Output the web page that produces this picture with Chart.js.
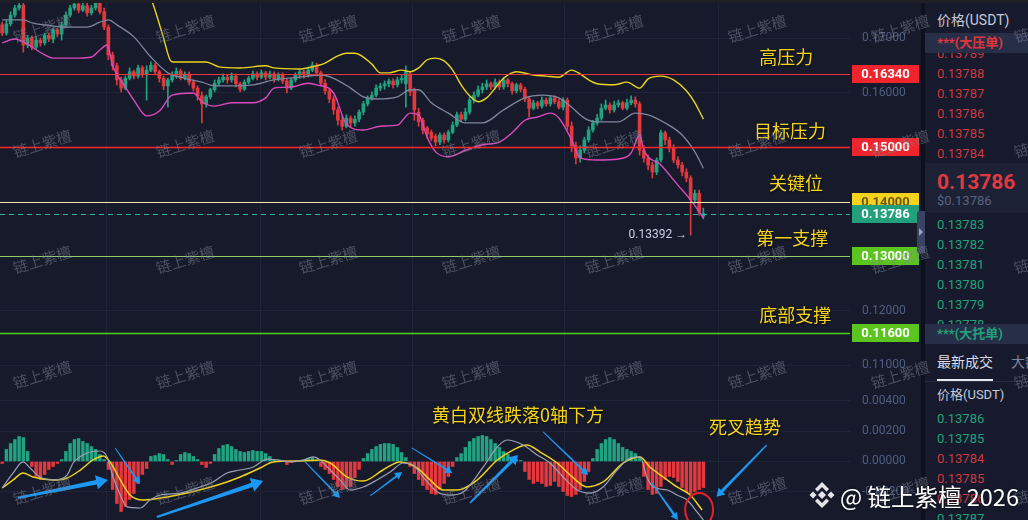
<!DOCTYPE html>
<html><head><meta charset="utf-8">
<script src="https://cdn.jsdelivr.net/npm/chart.js@4.4.1/dist/chart.umd.min.js"></script>
<style>
html,body{margin:0;padding:0;background:#161a2b;}
#stage{position:relative;width:1028px;height:520px;overflow:hidden;background:#161a2b;font-family:Roboto,"Noto Sans CJK SC",sans-serif;}
canvas{position:absolute;left:0;}
#c1{top:0}
#c2{top:380px}
.topbar{position:absolute;left:0;top:0;width:1028px;height:3px;background:#1e1f24;z-index:9}
.divider{position:absolute;left:921px;top:0;width:4px;height:520px;background:#0e111d;z-index:2}
.tab{position:absolute;left:917px;top:211px;width:8px;height:42px;background:#3a4363;border-radius:2px 0 0 2px;z-index:3}
.tab:after{content:"";position:absolute;left:2px;top:17px;border-left:4px solid #9aa3c0;border-top:4px solid transparent;border-bottom:4px solid transparent}
#book{position:absolute;left:925px;top:0;width:103px;height:520px;background:#161a2c;z-index:1;overflow:hidden}
.t{position:absolute;height:20px;line-height:20px;white-space:nowrap}
.wm{position:absolute;color:rgba(128,133,150,0.5);font:15px "Noto Sans CJK SC";transform:translate(-50%,-50%) rotate(-17deg);white-space:nowrap;z-index:6;pointer-events:none}
.brand{position:absolute;left:840px;top:479px;height:30px;line-height:30px;font:23.5px "Noto Sans CJK SC";color:#fff;text-shadow:0 0 3px rgba(0,0,0,0.7);z-index:8;white-space:nowrap}
.logo{position:absolute;left:808px;top:481px;width:28px;height:28px;z-index:8}
</style>
</head>
<body>
<div id="stage">
  <canvas id="c1" width="922" height="380"></canvas>
  <canvas id="c2" width="922" height="140"></canvas>
  <div class="divider"></div>
  <div class="tab"></div>
  <div id="book"></div>
  <div class="topbar"></div>
  <svg class="logo" viewBox="0 0 28 28"><g fill="#e4e4ea"><path d="M14 10 L18 14 L14 18 L10 14Z"/><path d="M5 10.5 L8.5 14 L5 17.5 L1.5 14Z"/><path d="M23 10.5 L26.5 14 L23 17.5 L19.5 14Z"/><path d="M14 1 L21 8 L18.5 10.5 L14 6 L9.5 10.5 L7 8Z"/><path d="M14 27 L21 20 L18.5 17.5 L14 22 L9.5 17.5 L7 20Z"/></g></svg>
  <div class="brand">@ 链上紫檀 2026</div>
</div>
<script>
// ---------------- DATA ----------------
const opens=[0.1725,0.1710,0.1727,0.1743,0.1756,0.1761,0.1688,0.1701,0.1684,0.1697,
0.1692,0.1706,0.1699,0.1716,0.1708,0.1725,0.1743,0.1756,0.1763,0.1752,
0.1760,0.1747,0.1756,0.1765,0.1749,0.1721,0.1670,0.1650,0.1624,0.1609,
0.1627,0.1639,0.1631,0.1646,0.1635,0.1642,0.1651,0.1639,0.1627,0.1613,
0.1624,0.1633,0.1640,0.1627,0.1635,0.1620,0.1609,0.1595,0.1580,0.1593,
0.1606,0.1618,0.1624,0.1629,0.1624,0.1631,0.1617,0.1607,0.1620,0.1627,
0.1635,0.1629,0.1637,0.1629,0.1635,0.1626,0.1633,0.1622,0.1609,0.1624,
0.1633,0.1639,0.1633,0.1642,0.1651,0.1637,0.1618,0.1604,0.1589,0.1569,
0.1550,0.1539,0.1554,0.1545,0.1552,0.1565,0.1580,0.1591,0.1596,0.1609,
0.1613,0.1617,0.1622,0.1615,0.1624,0.1617,0.1635,0.1606,0.1565,0.1550,
0.1536,0.1528,0.1521,0.1510,0.1523,0.1514,0.1528,0.1541,0.1560,0.1552,
0.1565,0.1587,0.1596,0.1606,0.1611,0.1617,0.1611,0.1620,0.1611,0.1624,
0.1617,0.1604,0.1615,0.1607,0.1589,0.1572,0.1582,0.1576,0.1587,0.1580,
0.1591,0.1584,0.1574,0.1587,0.1539,0.1503,0.1481,0.1495,0.1514,0.1532,
0.1545,0.1554,0.1572,0.1578,0.1569,0.1578,0.1582,0.1572,0.1582,0.1587,
0.1580,0.1495,0.1481,0.1468,0.1455,0.1477,0.1527,0.1514,0.1499,0.1477,
0.1468,0.1455,0.1444,0.1404,0.1416,0.1374];
const closes=[0.1710,0.1727,0.1743,0.1756,0.1761,0.1688,0.1701,0.1684,0.1697,0.1692,
0.1706,0.1699,0.1716,0.1708,0.1725,0.1743,0.1756,0.1763,0.1752,0.1760,
0.1747,0.1756,0.1765,0.1749,0.1721,0.1670,0.1650,0.1624,0.1609,0.1627,
0.1639,0.1631,0.1646,0.1635,0.1642,0.1651,0.1639,0.1627,0.1613,0.1624,
0.1633,0.1640,0.1627,0.1635,0.1620,0.1609,0.1595,0.1580,0.1593,0.1606,
0.1618,0.1624,0.1629,0.1624,0.1631,0.1617,0.1607,0.1620,0.1627,0.1635,
0.1629,0.1637,0.1629,0.1635,0.1626,0.1633,0.1622,0.1609,0.1624,0.1633,
0.1639,0.1633,0.1642,0.1651,0.1637,0.1618,0.1604,0.1589,0.1569,0.1550,
0.1539,0.1554,0.1545,0.1552,0.1565,0.1580,0.1591,0.1596,0.1609,0.1613,
0.1617,0.1622,0.1615,0.1624,0.1627,0.1639,0.1602,0.1569,0.1547,0.1532,
0.1525,0.1517,0.1510,0.1523,0.1514,0.1528,0.1541,0.1560,0.1552,0.1565,
0.1587,0.1596,0.1606,0.1611,0.1617,0.1611,0.1620,0.1611,0.1624,0.1617,
0.1604,0.1615,0.1607,0.1589,0.1572,0.1582,0.1576,0.1587,0.1580,0.1591,
0.1584,0.1574,0.1587,0.1539,0.1503,0.1481,0.1495,0.1514,0.1532,0.1545,
0.1554,0.1572,0.1578,0.1569,0.1578,0.1582,0.1572,0.1582,0.1587,0.1580,
0.1495,0.1481,0.1468,0.1455,0.1477,0.1527,0.1514,0.1499,0.1477,0.1468,
0.1455,0.1444,0.1404,0.1416,0.1382,0.13786];
const highs=[0.1730,0.1734,0.1749,0.1761,0.1769,0.1767,0.1706,0.1705,0.1703,0.1701,
0.1710,0.1710,0.1719,0.1719,0.1730,0.1749,0.1761,0.1771,0.1769,0.1767,
0.1765,0.1761,0.1771,0.1771,0.1756,0.1725,0.1675,0.1655,0.1629,0.1631,
0.1646,0.1642,0.1651,0.1650,0.1650,0.1657,0.1655,0.1642,0.1631,0.1627,
0.1639,0.1646,0.1644,0.1639,0.1639,0.1624,0.1613,0.1602,0.1596,0.1609,
0.1624,0.1629,0.1635,0.1633,0.1637,0.1635,0.1620,0.1624,0.1631,0.1640,
0.1639,0.1642,0.1640,0.1640,0.1639,0.1637,0.1637,0.1626,0.1627,0.1637,
0.1642,0.1642,0.1648,0.1657,0.1655,0.1640,0.1624,0.1609,0.1595,0.1574,
0.1558,0.1560,0.1558,0.1558,0.1569,0.1585,0.1595,0.1602,0.1615,0.1618,
0.1622,0.1626,0.1626,0.1629,0.1633,0.1650,0.1639,0.1609,0.1572,0.1554,
0.1539,0.1532,0.1525,0.1527,0.1527,0.1532,0.1547,0.1565,0.1565,0.1572,
0.1593,0.1602,0.1613,0.1618,0.1624,0.1620,0.1626,0.1624,0.1629,0.1627,
0.1620,0.1618,0.1618,0.1611,0.1593,0.1587,0.1585,0.1593,0.1591,0.1595,
0.1595,0.1589,0.1591,0.1591,0.1547,0.1510,0.1503,0.1519,0.1538,0.1550,
0.1561,0.1580,0.1587,0.1582,0.1585,0.1587,0.1585,0.1589,0.1595,0.1593,
0.1584,0.1503,0.1486,0.1473,0.1481,0.1532,0.1530,0.1519,0.1505,0.1483,
0.1473,0.1461,0.1448,0.1422,0.1422,0.1389];
const lows=[0.1705,0.1706,0.1723,0.1739,0.1752,0.1675,0.1683,0.1679,0.1681,0.1686,
0.1688,0.1694,0.1692,0.1703,0.1697,0.1721,0.1739,0.1752,0.1747,0.1749,
0.1741,0.1743,0.1752,0.1745,0.1716,0.1661,0.1642,0.1615,0.1602,0.1606,
0.1624,0.1626,0.1627,0.1629,0.1587,0.1639,0.1633,0.1620,0.1606,0.1574,
0.1620,0.1627,0.1624,0.1624,0.1615,0.1604,0.1587,0.1545,0.1574,0.1589,
0.1602,0.1613,0.1620,0.1618,0.1620,0.1611,0.1602,0.1604,0.1617,0.1624,
0.1624,0.1626,0.1624,0.1626,0.1620,0.1622,0.1617,0.1600,0.1606,0.1620,
0.1627,0.1627,0.1629,0.1639,0.1631,0.1613,0.1598,0.1582,0.1561,0.1541,
0.1532,0.1536,0.1538,0.1539,0.1547,0.1560,0.1576,0.1587,0.1593,0.1604,
0.1607,0.1611,0.1609,0.1611,0.1618,0.1574,0.1595,0.1550,0.1539,0.1525,
0.1517,0.1512,0.1503,0.1505,0.1508,0.1510,0.1525,0.1538,0.1547,0.1549,
0.1561,0.1582,0.1593,0.1600,0.1606,0.1606,0.1607,0.1606,0.1607,0.1611,
0.1598,0.1600,0.1602,0.1584,0.1556,0.1569,0.1571,0.1572,0.1576,0.1576,
0.1580,0.1571,0.1569,0.1532,0.1492,0.1470,0.1473,0.1490,0.1510,0.1528,
0.1541,0.1550,0.1569,0.1563,0.1565,0.1574,0.1569,0.1569,0.1578,0.1574,
0.1486,0.1473,0.1459,0.1444,0.1450,0.1473,0.1505,0.1492,0.1472,0.1462,
0.1448,0.1437,0.13392,0.1398,0.1376,0.1369];

// Bollinger bands: [candle index, price]
const bollUpper=[[0,0.1767],[4,0.1776],[10,0.1798],[20,0.1807],[28,0.1812],[33,0.1790],[35.3,0.1767],[36.5,0.1739],[37.9,0.1703],[39.5,0.1661],[40.2,0.1657],[45,0.1657],[48,0.1657],[51,0.1648],[56,0.1646],[62,0.1650],[64,0.1646],[70,0.1644],[73,0.1648],[76,0.1655],[79,0.1668],[81,0.1673],[83,0.1673],[87,0.1653],[89,0.1637],[91,0.1637],[94,0.1642],[96,0.1639],[98,0.1646],[100,0.1661],[102,0.1664],[104,0.1659],[106,0.1642],[108,0.1615],[110,0.1595],[112,0.1584],[114,0.1591],[116,0.1609],[118,0.1627],[121,0.1639],[125,0.1633],[128,0.1631],[131,0.1629],[134,0.1642],[136,0.1635],[138,0.1624],[140,0.1617],[144,0.1615],[147,0.1620],[150,0.1609],[152,0.1626],[155,0.1631],[158,0.1624],[161,0.1604],[163,0.1582],[165,0.1552]];
const bollMid=[[0,0.1734],[3,0.1734],[5,0.1734],[7.3,0.1728],[10,0.1725],[15,0.1721],[20,0.1721],[23,0.1730],[25,0.1734],[27,0.1725],[31,0.1703],[35,0.1666],[39,0.1637],[43,0.1627],[47,0.1620],[50,0.1613],[55,0.1613],[59,0.1615],[64,0.1624],[70,0.1629],[75,0.1633],[78,0.1627],[82,0.1609],[85,0.1593],[88,0.1589],[93,0.1593],[96,0.1606],[98,0.1606],[101,0.1582],[105,0.1563],[109,0.1545],[113,0.1545],[118,0.1569],[123,0.1591],[127,0.1596],[131,0.1591],[134,0.1574],[137,0.1554],[140,0.1547],[145,0.1547],[149,0.1563],[152,0.1560],[156,0.1545],[160,0.1523],[163,0.1492],[165,0.1462]];
const bollLower=[[0,0.1692],[3,0.1699],[5,0.1694],[7.3,0.1683],[10,0.1670],[12,0.1664],[18,0.1664],[21,0.1666],[23,0.1679],[24.7,0.1688],[26.1,0.1648],[29,0.1611],[31,0.1587],[34,0.1558],[37,0.1567],[40,0.1596],[45,0.1600],[47,0.1584],[50,0.1576],[54,0.1582],[59,0.1582],[62,0.1591],[64,0.1609],[68,0.1611],[72,0.1618],[74,0.1615],[78,0.1600],[81,0.1543],[85,0.1532],[89,0.1539],[93,0.1541],[96,0.1563],[98,0.1560],[100,0.1519],[102,0.1492],[105,0.1483],[109,0.1495],[113,0.1505],[117,0.1510],[120,0.1527],[123,0.1550],[126,0.1556],[129,0.1563],[131,0.1554],[134,0.1514],[136,0.1481],[140,0.1477],[145,0.1479],[148,0.1490],[150,0.1523],[151,0.1495],[155,0.1468],[159,0.1431],[162,0.1404],[165,0.1371]];

const priceTicks=[0.17,0.16,0.15,0.14,0.13,0.12,0.11];
const gridCols=[24.5,60.7,96.6,132.3,168.5];
const levelPrices=[0.1634,0.15,0.14,0.13,0.116];
const levelLabels=['0.16340','0.15000','0.14000','0.13000','0.11600'];
const levelNotes=['高压力','目标压力','关键位','第一支撑','底部支撑'];
const levelNoteIdx=[184.5,185.4,186.8,185.9,186.6];
const levelNotePrice=[0.1666,0.1530,0.1435,0.1334,0.1193];
const lastPrice=0.13786;
const lastLabel='0.13786';
const lowMarkIdx=161.2, lowMarkPrice=0.13392, lowMarkText='0.13392 →';

// MACD
const macdHist=[-0.00013,0.00079,0.00118,0.00144,0.00164,0.00157,0.00066,-0.00033,-0.00098,-0.00118,
-0.00085,-0.00052,-0.00033,-0.00013,0.00013,0.00066,0.00118,0.00144,0.00151,0.00131,
0.00118,0.00098,0.00079,0.00046,0.00013,-0.00052,-0.00184,-0.00276,-0.00328,-0.00295,
-0.00249,-0.0021,-0.00144,-0.00085,-0.00046,0.00033,0.00039,0.00052,0.00046,0.00013,
-0.0002,0.00007,0.00046,0.00059,0.00052,0.00033,0.00013,-0.0002,-0.00039,-0.00013,
0.00046,0.00085,0.00105,0.00112,0.00098,0.00079,0.00066,0.00059,0.00066,0.00072,
0.00066,0.00066,0.00052,0.00033,0.00013,0.00003,0.00003,-0.0002,-0.00007,0.00003,
0.00003,0.00007,0.0002,0.00026,0.00003,-0.00033,-0.00052,-0.00079,-0.00118,-0.00164,
-0.00184,-0.00177,-0.00164,-0.00105,-0.00052,0.0002,0.00052,0.00079,0.00098,0.00112,
0.00118,0.00118,0.00112,0.00092,0.00059,0.00026,-0.00033,-0.00079,-0.00118,-0.00157,
-0.00184,-0.0021,-0.00216,-0.00184,-0.00144,-0.00098,-0.00033,0.00026,0.00052,0.00092,
0.00131,0.00151,0.00164,0.00171,0.00164,0.00144,0.00118,0.00092,0.00066,0.00046,
0.00026,0.00013,0.00007,-0.00066,-0.00118,-0.00144,-0.00131,-0.00144,-0.00164,-0.00157,
-0.00131,-0.00164,-0.00197,-0.00223,-0.0023,-0.00216,-0.00184,-0.00131,-0.00066,0.0002,
0.00079,0.00118,0.00144,0.00157,0.00144,0.00118,0.00092,0.00079,0.00066,0.00052,
0.00026,-0.00098,-0.00184,-0.00216,-0.0021,-0.00164,-0.00118,-0.00098,-0.00105,-0.00131,
-0.00171,-0.00197,-0.0021,-0.00197,-0.00184,-0.00171];
const macdDif=[[0,-0.00174],[2.6,-0.00075],[4.9,-0.00003],[6.6,-0.00043],[8.9,-0.00102],[12,-0.00121],[15.3,-0.00089],[16.7,-0.0001],[20,0.00056],[23,0.00069],[24.7,0.0003],[26.1,-0.00102],[27.8,-0.0022],[29.4,-0.00298],[32.5,-0.00305],[34.8,-0.00253],[37.2,-0.0022],[41.9,-0.00207],[46.6,-0.00167],[49.6,-0.00134],[52.9,-0.00075],[56,-0.00056],[59.1,-0.00036],[62.4,0.00016],[64.7,0.0001],[67.8,-0.00003],[70.8,0.0001],[73.2,0.0003],[74.8,0.0001],[77.2,-0.00056],[79.5,-0.00121],[81.9,-0.00187],[85,-0.00167],[88.2,-0.00121],[91.3,-0.00069],[94.4,-0.0001],[96.7,-0.00023],[99.1,-0.00102],[102.4,-0.002],[105.4,-0.0022],[108.5,-0.002],[113.2,-0.00036],[116.5,0.00095],[118.8,0.00141],[122.6,0.00108],[125.9,0.00043],[128.9,-0.0001],[132,-0.00102],[135.3,-0.00187],[138.4,-0.00207],[141.4,-0.00167],[144.7,-0.00056],[147.8,0.00023],[150.1,0.00030],[151.7,-0.00102],[153.2,-0.00167],[156.5,-0.00187],[158.8,-0.0022],[161.2,-0.00253],[163.5,-0.00331],[165,-0.00384]];
const macdDea=[[0,-0.00174],[2.6,-0.00121],[4.9,-0.00075],[7.3,-0.00102],[12,-0.00121],[15.3,-0.00108],[18.4,-0.00056],[21.4,0.0001],[23.8,0.00036],[25.4,-0.00003],[27.8,-0.00121],[30.1,-0.0022],[33.2,-0.00253],[38.8,-0.00233],[43.5,-0.00207],[48.2,-0.00174],[52.9,-0.00134],[56,-0.00102],[60.7,-0.00043],[63.8,-0.00003],[70.1,0.00003],[74.8,0.0001],[77.2,-0.0001],[81.2,-0.00102],[85,-0.00128],[89.6,-0.00056],[93.6,-0.00003],[97.7,-0.00043],[100.7,-0.00121],[103.8,-0.00187],[107.1,-0.00187],[111.8,-0.00121],[116.5,0.0001],[120.2,0.00075],[123.5,0.00108],[126.6,0.00062],[130.6,-0.0001],[134.4,-0.00108],[137.6,-0.00167],[141.4,-0.00134],[146.1,-0.0001],[150.1,0.0003],[152.4,-0.00036],[155.5,-0.001],[158.8,-0.00167],[161.9,-0.0022],[164.7,-0.00318]];
const macdTicks=[0.004,0.002,0,-0.002];
const macdNotes=['黄白双线跌落0轴下方','死叉趋势'];
const macdNoteIdx=[121.4,174.8];
const macdNoteVal=[0.00305,0.00226];
// hand-drawn arrows [fromIdx, fromVal, toIdx, toVal]
const arrows=[[3.7,-0.00239,24.9,-0.00121],[26.6,0.00089,32.4,-0.00148],[36.4,-0.00364,61.4,-0.00128],[71.3,-0.00003,79.5,-0.00239],[86.6,-0.00226,94.1,-0.00069],[96.4,0.00089,105.9,-0.00075],[110.1,-0.00272,121.4,0.00043],[127.3,0.00194,137.9,-0.00089],[152.9,-0.00141,159.0,-0.00384],[179.9,0.00108,168.1,-0.00231]];
const arrowWidths=[4.5,2,4.5,2,2,2,3.5,2,2.5,3];
const crossIdx=164.0, crossVal=-0.00318;

// order book
const askPrices=['0.13789','0.13788','0.13787','0.13786','0.13785','0.13784'];
const bidPrices=['0.13783','0.13782','0.13781','0.13780','0.13779','0.13778'];
const tradePrices=['0.13786','0.13785','0.13784','0.13785','0.13786','0.13787'];
const tradeSides=['buy','buy','sell','sell','sell','buy'];

// ---------------- STYLE ----------------
const GREEN='#21a281', RED='#e3383d';
const levelLineColors=['#e8363c','#ff2626','#efe3a8','#94cc6a','#4fd214'];
const levelLineWidths=[1.2,1.5,1.2,1.2,1.5];
const levelBoxColors=['#f0242c','#f0242c','#f5d21c','#5cc41e','#5cc41e'];
const levelTextColors=['#ffffff','#ffffff','#6a5816','#ffffff','#ffffff'];
const PMAX=0.177064, PMIN=0.107339, MMAX=0.005346, MMIN=-0.003838;
const TICK_COLOR='#505e82', GRID_COLOR='#1f2439';
Chart.defaults.font.family='Roboto, "Noto Sans CJK SC", sans-serif';

const candleColors=closes.map((c,i)=>c>=opens[i]?GREEN:RED);
const toXY=a=>a.map(p=>({x:p[0],y:p[1]}));

function xScaleOpts(){
  return {type:'linear',min:-0.5,max:199.5,offset:false,display:true,
    ticks:{display:false},grid:{color:GRID_COLOR,drawTicks:false,offset:false},border:{display:false},
    afterBuildTicks:s=>{s.ticks=gridCols.map(v=>({value:v}));},
    afterFit:s=>{s.height=0;s.paddingLeft=0;s.paddingRight=0;s.paddingTop=0;s.paddingBottom=0;}};
}
function yScaleOpts(min,max,ticks){
  return {position:'right',min:min,max:max,
    ticks:{color:TICK_COLOR,font:{size:12},padding:12,callback:v=>Number(v).toFixed(5),autoSkip:false},
    grid:{color:GRID_COLOR,drawTicks:false},border:{display:false},
    afterBuildTicks:s=>{s.ticks=ticks.map(v=>({value:v}));},
    afterFit:s=>{s.width=72;s.paddingTop=0;s.paddingBottom=0;}};
}

function drawNote(ctx,text,x,y,size){
  ctx.save();
  ctx.font=size+'px "Noto Sans CJK SC"';
  ctx.textAlign='center';ctx.textBaseline='middle';
  ctx.shadowColor='rgba(0,0,0,0.6)';ctx.shadowBlur=2;ctx.shadowOffsetX=1;ctx.shadowOffsetY=1;
  ctx.fillStyle='#f7d417';
  ctx.fillText(text,x,y);
  ctx.restore();
}

const pricePlugin={
  id:'levels',
  afterDatasetsDraw(chart){
    const {ctx,chartArea:a,scales:{x,y}}=chart;
    ctx.save();
    levelPrices.forEach((p,k)=>{
      const yy=Math.round(y.getPixelForValue(p))+0.5;
      ctx.strokeStyle=levelLineColors[k];ctx.lineWidth=levelLineWidths[k];
      ctx.beginPath();ctx.moveTo(a.left,yy);ctx.lineTo(a.right,yy);ctx.stroke();
    });
    const ly=Math.round(y.getPixelForValue(lastPrice))+0.5;
    ctx.setLineDash([5,4]);ctx.strokeStyle='#2ab49a';ctx.lineWidth=1.2;
    ctx.beginPath();ctx.moveTo(a.left,ly);ctx.lineTo(a.right,ly);ctx.stroke();
    ctx.setLineDash([]);
    ctx.font='12px Roboto';ctx.fillStyle='#c8cee0';ctx.textAlign='right';ctx.textBaseline='middle';
    ctx.fillText(lowMarkText,x.getPixelForValue(lowMarkIdx),y.getPixelForValue(lowMarkPrice));
    ctx.restore();
    levelNotes.forEach((t,k)=>drawNote(ctx,t,x.getPixelForValue(levelNoteIdx[k]),y.getPixelForValue(levelNotePrice[k]),18));
  },
  afterDraw(chart){
    const {ctx,chartArea:a,scales:{y}}=chart;
    ctx.save();
    const box=(p,label,bg,fg)=>{
      const yy=y.getPixelForValue(p);
      ctx.fillStyle=bg;ctx.fillRect(a.right+2,Math.round(yy)-9,67,18);
      ctx.fillStyle=fg;ctx.font='bold 13px Roboto';ctx.textAlign='center';ctx.textBaseline='middle';
      ctx.fillText(label,a.right+2+33.5,Math.round(yy)+0.5);
    };
    levelPrices.forEach((p,k)=>box(p,levelLabels[k],levelBoxColors[k],levelTextColors[k]));
    box(lastPrice,lastLabel,'#22a07c','#ffffff');
    ctx.restore();
  }
};

new Chart(document.getElementById('c1'),{
  type:'bar',
  data:{datasets:[
    {type:'line',label:'UP',data:toXY(bollUpper),borderColor:'#e9d51b',borderWidth:1.4,pointRadius:0,cubicInterpolationMode:'monotone',order:0},
    {type:'line',label:'MB',data:toXY(bollMid),borderColor:'#7f869c',borderWidth:1.3,pointRadius:0,cubicInterpolationMode:'monotone',order:0},
    {type:'line',label:'DN',data:toXY(bollLower),borderColor:'#d94bbd',borderWidth:1.4,pointRadius:0,cubicInterpolationMode:'monotone',order:0},
    {label:'wick',data:lows.map((l,i)=>({x:i,y:[l,highs[i]]})),backgroundColor:candleColors,barThickness:1,grouped:false,order:2},
    {label:'body',data:opens.map((o,i)=>({x:i,y:[o,closes[i]]})),backgroundColor:candleColors,barThickness:3,minBarLength:1,grouped:false,order:1}
  ]},
  options:{responsive:false,animation:false,devicePixelRatio:1,
    layout:{padding:0},
    plugins:{legend:{display:false},tooltip:{enabled:false}},
    scales:{x:xScaleOpts(),y:yScaleOpts(PMIN,PMAX,priceTicks)}},
  plugins:[pricePlugin]
});

function drawArrow(ctx,x1,y1,x2,y2,w){
  const ang=Math.atan2(y2-y1,x2-x1);
  const len=Math.hypot(x2-x1,y2-y1);
  const hl=Math.max(7,w*2.6), hw=Math.max(4,w*1.6);
  ctx.save();ctx.translate(x1,y1);ctx.rotate(ang);
  ctx.beginPath();
  ctx.moveTo(0,-w*0.25);ctx.lineTo(len-hl,-w/2);ctx.lineTo(len-hl,-hw);ctx.lineTo(len,0);
  ctx.lineTo(len-hl,hw);ctx.lineTo(len-hl,w/2);ctx.lineTo(0,w*0.25);ctx.closePath();
  ctx.fillStyle='#1b98f2';ctx.fill();
  ctx.restore();
}

const macdPlugin={
  id:'macdNotes',
  afterDraw(chart){
    const {ctx,scales:{x,y}}=chart;
    arrows.forEach((a,k)=>drawArrow(ctx,x.getPixelForValue(a[0]),y.getPixelForValue(a[1]),x.getPixelForValue(a[2]),y.getPixelForValue(a[3]),arrowWidths[k]));
    ctx.save();
    ctx.strokeStyle='#e8202a';ctx.lineWidth=2;
    ctx.beginPath();ctx.ellipse(x.getPixelForValue(crossIdx),y.getPixelForValue(crossVal),14,17,0,0,Math.PI*2);ctx.stroke();
    ctx.restore();
    macdNotes.forEach((t,k)=>drawNote(ctx,t,x.getPixelForValue(macdNoteIdx[k]),y.getPixelForValue(macdNoteVal[k]),18));
  }
};

new Chart(document.getElementById('c2'),{
  type:'bar',
  data:{datasets:[
    {type:'line',label:'DIF',data:toXY(macdDif),borderColor:'#9ca1b6',borderWidth:1.2,pointRadius:0,cubicInterpolationMode:'monotone',order:0},
    {type:'line',label:'DEA',data:toXY(macdDea),borderColor:'#efd21a',borderWidth:1.5,pointRadius:0,cubicInterpolationMode:'monotone',order:0},
    {label:'MACD',data:macdHist.map((v,i)=>({x:i,y:v})),backgroundColor:macdHist.map(v=>v>=0?GREEN:RED),barThickness:2.8,order:1}
  ]},
  options:{responsive:false,animation:false,devicePixelRatio:1,
    layout:{padding:0},
    plugins:{legend:{display:false},tooltip:{enabled:false}},
    scales:{x:xScaleOpts(),y:yScaleOpts(MMIN,MMAX,macdTicks)}},
  plugins:[macdPlugin]
});

// ---------------- ORDER BOOK (HTML text) ----------------
const book=document.getElementById('book');
function addText(txt,left,cy,css){
  const d=document.createElement('div');d.className='t';d.textContent=txt;
  d.style.left=left+'px';d.style.top=(cy-10)+'px';Object.assign(d.style,css||{});
  book.appendChild(d);return d;
}
function addBox(top,h,bg){const d=document.createElement('div');d.style.cssText='position:absolute;left:0;width:103px;top:'+top+'px;height:'+h+'px;background:'+bg;book.appendChild(d);return d;}
addText('------',12,3,{fontSize:'10px',color:'#3d4459'});
addText('价格(USDT)',12,20,{fontSize:'14px',color:'#c5cad9'});
askPrices.forEach((p,k)=>addText(p,12,54+20*k,{fontSize:'13px',color:'#c9393f'}));
addBox(33,20,'#272f48');
addText('***(大压单)',12,43,{fontSize:'13px',color:'#e3363c',fontWeight:'bold'});
addBox(163,50,'#1c2136');
addText('0.13786',12,182,{fontSize:'21px',fontWeight:'bold',color:'#e0393e'});
addText('$0.13786',12,201,{fontSize:'13px',color:'#5a6380'});
bidPrices.forEach((p,k)=>addText(p,12,225+20*k,{fontSize:'13px',color:'#21a07b'}));
addBox(324,20,'#272f48');
addText('***(大托单)',12,334,{fontSize:'13px',color:'#21a07b',fontWeight:'bold'});
addText('最新成交',12,362,{fontSize:'14px',color:'#dadeea'});
addText('大额',86,362,{fontSize:'14px',color:'#7c839c'});
addBox(381,1,'#262c40');
const ul=addBox(379,2,'#e6e8f0');ul.style.left='12px';ul.style.width='56px';
addText('价格(USDT)',12,395,{fontSize:'13px',color:'#c5cad9'});
tradePrices.forEach((p,k)=>addText(p,12,419+20*k,{fontSize:'13px',color:tradeSides[k]==='buy'?'#21a07b':'#c9393f'}));

// ---------------- WATERMARKS ----------------
const stage=document.getElementById('stage');
[28,143,259,374,490].forEach(cy=>{
  [42,185,328,471,614,757,900,1043].forEach(cx=>{
    const d=document.createElement('div');d.className='wm';d.textContent='链上紫檀';
    d.style.left=cx+'px';d.style.top=cy+'px';stage.appendChild(d);
  });
});
</script>
</body></html>
